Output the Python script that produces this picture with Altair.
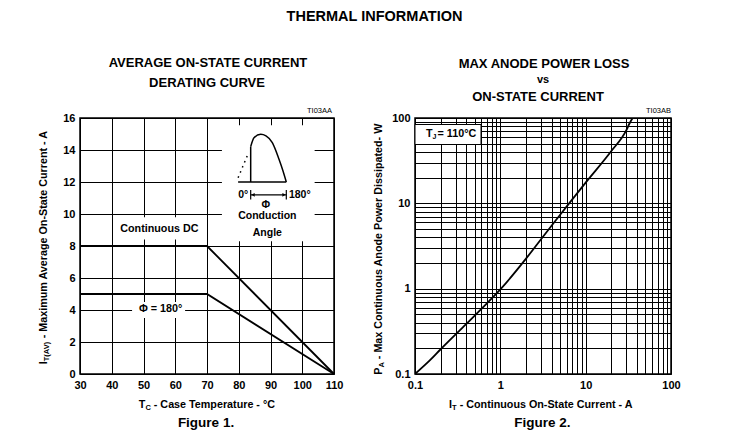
import altair as alt
import pandas as pd

FONT = "Liberation Sans"

# ---------------- Figure 1 data ----------------
temp_c = [30, 70, 110]
dc_current = [8, 8, 0]
phi180_current = [5, 5, 0]
left_x_ticks = [30, 40, 50, 60, 70, 80, 90, 100, 110]
left_y_ticks = [0, 2, 4, 6, 8, 10, 12, 14, 16]

# inset waveform sketch (chart units)
wave_x = [83.76, 84.80, 86.91, 88.58, 90.57, 92.68, 93.94, 94.98]
wave_y = [14.21, 14.77, 14.98, 14.88, 14.46, 13.42, 12.69, 12.0]
dots_x = [79.8, 83.0]
dots_y = [12.27, 13.79]

# ---------------- Figure 2 data ----------------
on_current = [0.1, 0.15, 0.2, 0.4, 0.6, 1, 2, 3, 5, 6.4, 10, 20, 30, 32.4, 35.5]
power_loss = [0.1, 0.145, 0.195, 0.387, 0.58, 0.98, 2.25, 3.8, 7.3, 10, 17.5, 41, 72, 85, 100]
right_decades = [0.1, 1, 10, 100]
right_decade_labels = ["0.1", "1", "10", "100"]

# Arial-bold-like widths (per 1000 em) for placing subscripts
AW = {" ": 278, "-": 333, "(": 333, ")": 333, ".": 278, "°": 400, "=": 584,
      "A": 722, "C": 722, "D": 722, "E": 667, "I": 278, "M": 833, "O": 778, "P": 667,
      "S": 667, "T": 611, "V": 667, "W": 944, "J": 556,
      "a": 556, "c": 556, "d": 611, "e": 556, "g": 611, "i": 278, "m": 889, "n": 611,
      "o": 611, "p": 611, "r": 389, "s": 556, "t": 333, "u": 611, "v": 556, "w": 778, "x": 556}


def tw(s, size):
    return sum(AW.get(c, 556) for c in s) * size / 1000.0


dummy = pd.DataFrame({"k": [0]})

# shared scales / axes for the left panel
XSL = alt.Scale(domain=[30, 110], nice=False, zero=False)
YSL = alt.Scale(domain=[0, 16], nice=False)
AXL = alt.Axis(values=left_x_ticks, title=None)
AYL = alt.Axis(values=left_y_ticks, title=None)


def dx(v):
    return alt.XDatum(v, type="quantitative", scale=XSL, axis=AXL)


def dy(v):
    return alt.YDatum(v, type="quantitative", scale=YSL, axis=AYL)


def label(s, x, y, size, bold=True, align="center", angle=None, datum=False):
    props = dict(text=s, font=FONT, fontSize=size, fontWeight="bold" if bold else "normal",
                 align=align, baseline="middle", color="black")
    if angle is not None:
        props["angle"] = angle
    ex = dx(x) if datum else alt.value(x)
    ey = dy(y) if datum else alt.value(y)
    return alt.Chart(dummy).mark_text(**props).encode(x=ex, y=ey)


TS, SS = 10.75, 7.5


def htitle(letter, sub, rest, cx, y):
    w1, w2, g, w3 = tw(letter, TS), tw(sub, SS), tw(" ", TS), tw(rest, TS)
    x0 = cx - (w1 + w2 + g + w3) / 2
    return [label(letter, x0, y, TS, align="left"),
            label(sub, x0 + w1, y + 3, SS, align="left"),
            label(rest, x0 + w1 + w2 + g, y, TS, align="left")]


def vtitle(letter, sub, rest, x, cy):
    w1, w2, g, w3 = tw(letter, TS), tw(sub, SS), tw(" ", TS), tw(rest, TS)
    y0 = cy + (w1 + w2 + g + w3) / 2
    return [label(letter, x, y0, TS, align="left", angle=270),
            label(sub, x + 3, y0 - w1, SS, align="left", angle=270),
            label(rest, x, y0 - w1 - w2 - g, TS, align="left", angle=270)]


def wrect(x1, x2, y1, y2):
    return alt.Chart(dummy).mark_rect(color="white").encode(
        x=dx(x1), x2=alt.X2Datum(x2), y=dy(y1), y2=alt.Y2Datum(y2))


def rule(x1, x2, y1, y2, w=1.5):
    return alt.Chart(dummy).mark_rule(color="black", strokeWidth=w).encode(
        x=dx(x1), x2=alt.X2Datum(x2), y=dy(y1), y2=alt.Y2Datum(y2))


# ---------------- left panel ----------------
left_df = pd.DataFrame({
    "temp": temp_c * 2,
    "current": dc_current + phi180_current,
    "series": ["Continuous DC"] * len(temp_c) + ["phi180"] * len(temp_c),
})
xl = alt.X("temp:Q", title=None, scale=XSL, axis=AXL)
yl = alt.Y("current:Q", title=None, scale=YSL, axis=AYL)

lines_left = alt.Chart(left_df).mark_line(color="black", strokeWidth=1.8).encode(
    x=xl, y=yl, detail="series:N")

wave_df = pd.DataFrame({"temp": wave_x, "current": wave_y})
wave = alt.Chart(wave_df).mark_line(color="black", strokeWidth=1.5, interpolate="monotone").encode(
    x=xl, y=yl)
dots_df = pd.DataFrame({"temp": dots_x, "current": dots_y})
dots = alt.Chart(dots_df).mark_line(color="black", strokeWidth=1.5, strokeDash=[1.5, 4]).encode(
    x=xl, y=yl)

inset = [
    rule(79.8, 94.98, 12.0, 12.0),
    rule(83.76, 83.76, 12.0, 14.21),
    rule(83.76, 94.98, 11.2, 11.2, 1.2),
    rule(83.76, 83.76, 10.9, 11.5, 1.2),
    rule(94.98, 94.98, 10.9, 11.5, 1.2),
    alt.Chart(dummy).mark_point(shape="triangle-left", filled=True, size=14, color="black", opacity=1).encode(
        x=dx(84.5), y=dy(11.2)),
    alt.Chart(dummy).mark_point(shape="triangle-right", filled=True, size=14, color="black", opacity=1).encode(
        x=dx(94.25), y=dy(11.2)),
]

left_texts = [
    label("THERMAL INFORMATION", 294.5, -101, 14.5),
    label("AVERAGE ON-STATE CURRENT", 128, -55, 13),
    label("DERATING CURVE", 127, -35, 13),
    label("TI03AA", 252, -7, 7.5, bold=False, align="right"),
    label("Figure 1.", 126, 305, 13.5),
    label("Continuous DC", 55.0, 9.06, 10.75, datum=True),
    label("Φ = 180°", 55.4, 4.04, 10.75, datum=True),
    label("0°", 81.4, 11.17, 10.5, datum=True),
    label("180°", 95.8, 11.17, 10.5, align="left", datum=True),
    label("Φ", 88.5, 10.54, 10.5, datum=True),
    label("Conduction", 89.0, 9.875, 10.5, datum=True),
    label("Angle", 89.0, 8.83, 10.5, datum=True),
] + htitle("T", "C", "- Case Temperature - °C", 127.3, 286.5) \
  + vtitle("I", "T(AV)", "- Maximum Average On-State Current - A", -36, 129)

left = alt.layer(
    wrect(74.7, 103.9, 8.3, 15.55),
    wrect(41.7, 68.4, 8.4, 9.8),
    wrect(46.4, 63.1, 3.5, 4.5),
    lines_left, wave, dots, *inset, *left_texts,
).properties(width=254, height=256)

# ---------------- right panel ----------------
log_grid = [m * d for d in (0.1, 1, 10) for m in range(1, 10)] + [100]
lab_expr = " : ".join(
    f"datum.value == {v} ? '{t}'" for v, t in zip(right_decades, right_decade_labels)) + " : ''"

right_df = pd.DataFrame({"it": on_current, "pa": power_loss})
xr = alt.X("it:Q", title=None, scale=alt.Scale(type="log", domain=[0.1, 100], nice=False),
           axis=alt.Axis(values=log_grid, labelExpr=lab_expr, title=None))
yr = alt.Y("pa:Q", title=None, scale=alt.Scale(type="log", domain=[0.1, 100], nice=False),
           axis=alt.Axis(values=log_grid, labelExpr=lab_expr, title=None))

curve = alt.Chart(right_df).mark_line(color="black", strokeWidth=1.8, interpolate="monotone", clip=True).encode(
    x=xr, y=yr)

tj_box = alt.Chart(dummy).mark_rect(fill="white", stroke="black", strokeWidth=1).encode(
    x=alt.value(0), x2=alt.value(66), y=alt.value(6.5), y2=alt.value(26.5))

right_texts = [
    label("MAX ANODE POWER LOSS", 129, -54, 13),
    label("vs", 128, -38.5, 11),
    label("ON-STATE CURRENT", 123, -21.5, 13),
    label("TI03AB", 256, -7, 7.5, bold=False, align="right"),
    label("Figure 2.", 127.3, 305, 13.5),
    label("T", 11, 15.8, 10.75, align="left"),
    label("J", 17.6, 18.5, 7, align="left"),
    label("= 110°C", 22.6, 15.8, 10.75, align="left"),
] + htitle("I", "T", "- Continuous On-State Current - A", 126, 286.5) \
  + vtitle("P", "A", "- Max Continuous Anode Power Dissipated- W", -36, 131)

right = alt.layer(curve, tj_box, *right_texts).properties(width=256, height=256)

chart = alt.hconcat(left, right, spacing=81, bounds="flush").properties(
    padding={"left": 29, "top": 0, "right": 5, "bottom": 0},
    background="white",
).configure_view(
    stroke="black", strokeWidth=1.5
).configure_axis(
    grid=True, gridColor="black", gridOpacity=1, gridWidth=1,
    tickSize=0, domain=False, labelFont=FONT, labelFontSize=11, labelFontWeight="bold",
    labelColor="black", labelPadding=5, labelOverlap=False,
).configure_axisX(labelFlush=False)

chart.save("out.html", embed_options={"renderer": "svg", "actions": False})
